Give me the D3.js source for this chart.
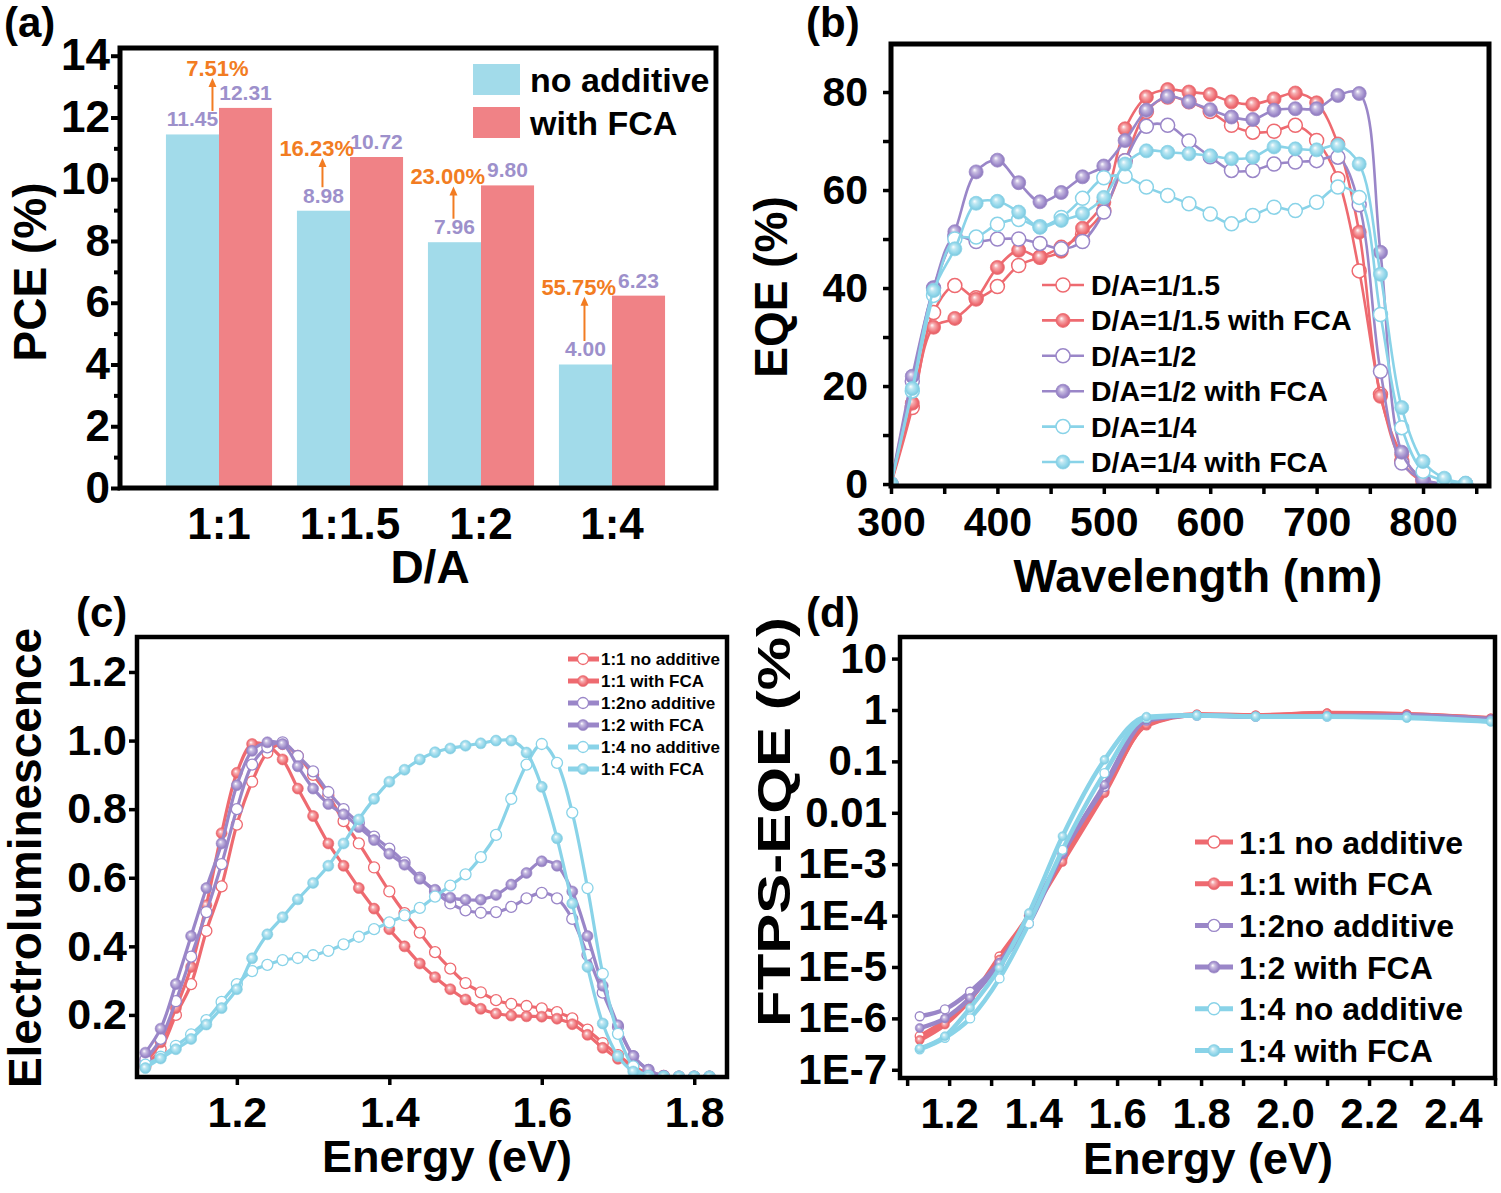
<!DOCTYPE html>
<html><head><meta charset="utf-8">
<script src="https://cdn.jsdelivr.net/npm/d3@7"></script>
<style>
body{margin:0;background:#fff;}
svg text{font-family:"Liberation Sans",Arial,Helvetica,sans-serif;font-weight:bold;}
</style></head><body>
<svg id="chart" width="1501" height="1193" xmlns="http://www.w3.org/2000/svg"></svg>
<script>
// ---------------- DATA ----------------
// (a) PCE bar chart
const pceCategories = ["1:1", "1:1.5", "1:2", "1:4"];
const pceNoAdditive = [11.45, 8.98, 7.96, 4.00];
const pceWithFCA = [12.31, 10.72, 9.80, 6.23];
const pceIncrease = ["7.51%", "16.23%", "23.00%", "55.75%"];
const pceTicks = [0, 2, 4, 6, 8, 10, 12, 14];
const pceMinorTicks = [1, 3, 5, 7, 9, 11, 13];
const pceSeriesNames = ["no additive", "with FCA"];

// (b) EQE spectra
const eqeWavelength = [300,320,340,360,380,400,420,440,460,480,500,520,540,560,580,600,620,640,660,680,700,720,740,760,780,800,820,840];
const eqe_1_1p5     = [0,15.6,35,40.5,38,40.3,44.6,46.3,48.3,51,55.8,66,76,79,78,76,73.2,71.8,72,73.2,70.1,62.3,43.5,18.3,4.6,0.5,0,0];
const eqe_1_1p5_FCA = [0,16.5,32,33.8,37.7,44.2,47.7,46.3,47.5,52.2,57.5,72.5,79,80.5,80,79.5,78,77.5,78.6,79.8,77.8,69.4,51.4,17.9,6,0.9,0,0];
const eqe_1_2       = [0,21,40,50.5,49.5,50,50,49.1,48,49.5,55.5,66,73,73.2,70,66.8,64,64,65.3,65.7,66,66.7,57,23,4.3,1,0,0];
const eqe_1_2_FCA   = [0,22,40,51.5,63.7,66.1,61.5,57.6,59.5,62.7,64.9,70.1,76.3,79.1,78,76.4,74.9,74.4,76.3,76.6,76.6,79.3,79.7,47.3,6.5,1,0,0];
const eqe_1_4       = [0,19,38.5,50,50.4,53,54,52.5,54.4,58.3,62.5,62.8,60.6,58.9,57.2,55.1,53.1,54.8,56.5,55.8,57.5,60.6,58.5,34.6,11.5,2.6,0.7,0];
const eqe_1_4_FCA   = [0,19.5,39.5,48,57.3,57.7,55.5,52.4,53.8,55.2,58.5,65.3,68,67.7,67.4,67,66.4,66.7,68.8,68.4,68.2,69.1,65.3,42.8,15.6,4.6,1.2,0.2];
const eqeLabels = ["D/A=1/1.5", "D/A=1/1.5 with FCA", "D/A=1/2", "D/A=1/2 with FCA", "D/A=1/4", "D/A=1/4 with FCA"];
const eqeXTicks = [300, 400, 500, 600, 700, 800];
const eqeXMinor = [350, 450, 550, 650, 750, 850];
const eqeYTicks = [0, 20, 40, 60, 80];
const eqeYMinor = [10, 30, 50, 70];

// (c) Electroluminescence
const elEnergy = [1.08,1.10,1.12,1.14,1.16,1.18,1.20,1.22,1.24,1.26,1.28,1.30,1.32,1.34,1.36,1.38,1.40,1.42,1.44,1.46,1.48,1.50,1.52,1.54,1.56,1.58,1.60,1.62,1.64,1.66,1.68,1.70,1.72,1.74,1.76,1.78,1.80,1.82];
const el_1_1     = [0.05,0.10,0.20,0.29,0.445,0.575,0.755,0.88,0.965,0.99,0.955,0.90,0.84,0.765,0.70,0.63,0.56,0.497,0.44,0.383,0.335,0.293,0.266,0.243,0.232,0.226,0.219,0.208,0.19,0.157,0.118,0.083,0.05,0.03,0.022,0.02,0.02,0.02];
const el_1_1_FCA = [0.06,0.12,0.22,0.34,0.52,0.73,0.906,0.99,0.985,0.945,0.86,0.78,0.70,0.635,0.57,0.51,0.45,0.40,0.35,0.31,0.275,0.245,0.218,0.204,0.198,0.196,0.195,0.189,0.173,0.142,0.104,0.072,0.045,0.028,0.02,0.02,0.02,0.02];
const el_1_2     = [0.07,0.13,0.24,0.37,0.50,0.64,0.80,0.93,0.98,0.995,0.955,0.91,0.85,0.80,0.76,0.72,0.685,0.645,0.60,0.56,0.525,0.505,0.498,0.50,0.515,0.54,0.556,0.54,0.48,0.375,0.265,0.165,0.08,0.04,0.022,0.02,0.02,0.02];
const el_1_2_FCA = [0.09,0.16,0.29,0.43,0.57,0.70,0.87,0.97,0.995,0.99,0.925,0.86,0.815,0.785,0.748,0.71,0.67,0.638,0.597,0.565,0.542,0.536,0.536,0.55,0.58,0.614,0.648,0.635,0.56,0.43,0.285,0.17,0.08,0.04,0.022,0.02,0.02,0.02];
const el_1_4     = [0.055,0.078,0.11,0.143,0.185,0.238,0.29,0.328,0.346,0.36,0.366,0.374,0.387,0.406,0.428,0.45,0.47,0.49,0.512,0.545,0.577,0.61,0.66,0.725,0.83,0.93,0.99,0.935,0.79,0.57,0.32,0.145,0.05,0.022,0.02,0.02,0.02,0.02];
const el_1_4_FCA = [0.045,0.073,0.10,0.13,0.172,0.22,0.275,0.365,0.435,0.485,0.537,0.585,0.635,0.70,0.77,0.83,0.88,0.915,0.945,0.966,0.977,0.985,0.992,1.0,1.0,0.965,0.865,0.715,0.525,0.34,0.175,0.08,0.035,0.02,0.02,0.02,0.02,0.02];
const elLabels = ["1:1 no additive", "1:1 with FCA", "1:2no additive", "1:2 with FCA", "1:4 no additive", "1:4 with FCA"];
const elXTicks = [1.2, 1.4, 1.6, 1.8];
const elYTicks = [0.2, 0.4, 0.6, 0.8, 1.0, 1.2];

// (d) FTPS-EQE
const ftpsEnergy = [1.13,1.19,1.25,1.32,1.39,1.47,1.57,1.67,1.79,1.93,2.10,2.29,2.49];
const ftps_1_1     = [4.5e-7,9e-7,2.4e-6,1.6e-5,1.0e-4,1.3e-3,2.6e-2,0.50,0.80,0.78,0.85,0.82,0.68];
const ftps_1_1_FCA = [3.8e-7,7.6e-7,2.3e-6,1.4e-5,9.5e-5,1.1e-3,2.4e-2,0.51,0.83,0.79,0.87,0.83,0.69];
const ftps_1_2     = [1.1e-6,1.5e-6,3.3e-6,1.2e-5,7e-5,1.6e-3,3.2e-2,0.62,0.78,0.74,0.75,0.77,0.65];
const ftps_1_2_FCA = [6.5e-7,1.0e-6,2.5e-6,1.2e-5,9.5e-5,1.6e-3,3.5e-2,0.64,0.79,0.74,0.76,0.78,0.66];
const ftps_1_4     = [2.5e-7,4.2e-7,1.0e-6,6e-6,7e-5,1.9e-3,5.9e-2,0.70,0.78,0.74,0.74,0.72,0.60];
const ftps_1_4_FCA = [2.6e-7,4.5e-7,1.6e-6,9.5e-6,1.12e-4,3.5e-3,0.107,0.74,0.79,0.75,0.75,0.70,0.59];
const ftpsLabels = ["1:1 no additive", "1:1 with FCA", "1:2no additive", "1:2 with FCA", "1:4 no additive", "1:4 with FCA"];
const ftpsXTicks = [1.2, 1.4, 1.6, 1.8, 2.0, 2.2, 2.4];
const ftpsXMinor = [1.1, 1.3, 1.5, 1.7, 1.9, 2.1, 2.3, 2.5];
const ftpsYTicks = [10, 1, 0.1, 0.01, 1e-3, 1e-4, 1e-5, 1e-6, 1e-7];
const ftpsYTickLabels = ["10", "1", "0.1", "0.01", "1E-3", "1E-4", "1E-5", "1E-6", "1E-7"];

// ---------------- STYLE ----------------
const RED = "#ee6a70", PURPLE = "#9a86c8", CYAN = "#89d3e8";
const BAR_CYAN = "#a2dbea", BAR_RED = "#f08286";
const VAL_COLOR = "#9d90cb", PCT_COLOR = "#f27c22";
const FONT = '"Liberation Sans", Arial, Helvetica, sans-serif';

const svg = d3.select("#chart");
const defs = svg.append("defs");
function makeGrad(id, c) {
  const g = defs.append("radialGradient").attr("id", id)
    .attr("cx", "50%").attr("cy", "50%").attr("r", "55%").attr("fx", "38%").attr("fy", "35%");
  g.append("stop").attr("offset", "0%").attr("stop-color", "#ffffff");
  g.append("stop").attr("offset", "30%").attr("stop-color", d3.interpolateRgb("#ffffff", c)(0.55));
  g.append("stop").attr("offset", "75%").attr("stop-color", c);
  g.append("stop").attr("offset", "100%").attr("stop-color", d3.color(c).darker(0.3));
}
makeGrad("gRed", RED); makeGrad("gPurple", PURPLE); makeGrad("gCyan", CYAN);
const gradOf = c => c === RED ? "url(#gRed)" : c === PURPLE ? "url(#gPurple)" : "url(#gCyan)";

function styleAxis(g, fs, tw) {
  g.select(".domain").remove();
  g.selectAll(".tick line").attr("stroke", "#000").attr("stroke-width", tw || 3.5);
  g.selectAll(".tick text").attr("fill", "#000")
    .style("font-size", fs + "px").style("font-weight", "bold").style("font-family", FONT);
}
function frame(g, P, sw) {
  g.append("rect").attr("x", P.l).attr("y", P.t).attr("width", P.r - P.l).attr("height", P.b - P.t)
    .attr("fill", "none").attr("stroke", "#000").attr("stroke-width", sw);
}
function text(g, x, y, s, size, opts = {}) {
  const t = g.append("text").attr("x", x).attr("y", y).text(s)
    .style("font-size", size + "px").attr("fill", opts.fill || "#000")
    .attr("text-anchor", opts.anchor || "start");
  if (opts.rotate) t.attr("transform", `rotate(-90,${x},${y})`);
  if (opts.length) t.attr("textLength", opts.length).attr("lengthAdjust", "spacingAndGlyphs");
  return t;
}
function clip(id, P) {
  defs.append("clipPath").attr("id", id).append("rect")
    .attr("x", P.l).attr("y", P.t).attr("width", P.r - P.l).attr("height", P.b - P.t);
}

// ================= PANEL (a) =================
const A = {l: 120, r: 716, t: 48, b: 488};
const gA = svg.append("g");
const ax = d3.scaleBand().domain(pceCategories).range([153.5, 677.5]).paddingInner(0.19).paddingOuter(0.095);
const ay = d3.scaleLinear().domain([0, 14.25]).range([A.b, A.t]);
const sub = d3.scaleBand().domain(pceSeriesNames).range([0, ax.bandwidth()]);
const barData = [];
pceCategories.forEach((c, i) => {
  barData.push({c, s: pceSeriesNames[0], v: pceNoAdditive[i]});
  barData.push({c, s: pceSeriesNames[1], v: pceWithFCA[i]});
});
gA.selectAll("rect.bar").data(barData).join("rect").attr("class", "bar")
  .attr("x", d => ax(d.c) + sub(d.s)).attr("y", d => ay(d.v))
  .attr("width", sub.bandwidth()).attr("height", d => ay(0) - ay(d.v))
  .attr("fill", d => d.s === pceSeriesNames[0] ? BAR_CYAN : BAR_RED);
gA.selectAll("text.val").data(barData).join("text").attr("class", "val")
  .attr("x", d => ax(d.c) + sub(d.s) + sub.bandwidth() / 2)
  .attr("y", d => ay(d.v) - 8)
  .attr("text-anchor", "middle").attr("fill", VAL_COLOR)
  .style("font-size", "21px").style("font-weight", "bold")
  .text(d => d.v.toFixed(2));
pceCategories.forEach((c, i) => {
  const cyanC = ax(c) + sub.bandwidth() / 2;
  const cyanLabelMid = ay(pceNoAdditive[i]) - 15.5;
  const redLabelMid = ay(pceWithFCA[i]) - 16;
  let ax0, pctMid, tAnchor, tx;
  if (i === 0) {
    ax0 = cyanC + 20; pctMid = redLabelMid - 24; tAnchor = "middle"; tx = ax0 + 5;
  } else {
    ax0 = cyanC - 1; pctMid = redLabelMid + 7; tAnchor = "end"; tx = ax(c) + sub.bandwidth() + 4;
  }
  text(gA, tx, pctMid + 8, pceIncrease[i], 22, {fill: PCT_COLOR, anchor: tAnchor});
  const yBot = cyanLabelMid - 8, yTop = pctMid + 10;
  gA.append("line").attr("x1", ax0).attr("x2", ax0).attr("y1", yBot).attr("y2", yTop + 8)
    .attr("stroke", PCT_COLOR).attr("stroke-width", 2);
  gA.append("path").attr("d", `M${ax0 - 4},${yTop + 9}L${ax0},${yTop}L${ax0 + 4},${yTop + 9}Z`).attr("fill", PCT_COLOR);
});
const aYAxis = gA.append("g").attr("transform", `translate(${A.l},0)`)
  .call(d3.axisLeft(ay).tickValues(pceTicks).tickSize(9).tickPadding(1).tickFormat(d3.format("d")));
styleAxis(aYAxis, 44, 4);
const aYMinor = gA.append("g").attr("transform", `translate(${A.l},0)`)
  .call(d3.axisLeft(ay).tickValues(pceMinorTicks).tickSize(6).tickFormat(""));
styleAxis(aYMinor, 44, 4);
const aXAxis = gA.append("g").attr("transform", `translate(0,${A.b})`)
  .call(d3.axisBottom(ax).tickSize(0).tickPadding(20));
styleAxis(aXAxis, 44);
frame(gA, A, 5);
[BAR_CYAN, BAR_RED].forEach((col, i) => {
  gA.append("rect").attr("x", 473).attr("y", 64 + i * 43).attr("width", 47).attr("height", 31).attr("fill", col);
  text(gA, 530, 92 + i * 43, pceSeriesNames[i], 34);
});
text(gA, 46, 272, "PCE (%)", 46, {anchor: "middle", rotate: true});
text(gA, 430, 583, "D/A", 46, {anchor: "middle"});
text(gA, 4, 37, "(a)", 42);

// ================= PANEL (b) =================
const B = {l: 891, r: 1489, t: 44, b: 486};
const gB = svg.append("g");
clip("clipB", B);
const bx = d3.scaleLinear().domain([300, 862]).range([B.l, B.r]);
const by = d3.scaleLinear().domain([-0.4, 89.8]).range([B.b, B.t]);
const eqeSeries = [
  {v: eqe_1_1p5, c: RED, open: true}, {v: eqe_1_1p5_FCA, c: RED, open: false},
  {v: eqe_1_2, c: PURPLE, open: true}, {v: eqe_1_2_FCA, c: PURPLE, open: false},
  {v: eqe_1_4, c: CYAN, open: true}, {v: eqe_1_4_FCA, c: CYAN, open: false}
];
const bLine = d3.line().x(d => bx(d[0])).y(d => by(d[1])).curve(d3.curveCatmullRom.alpha(0.5));
const bPlot = gB.append("g").attr("clip-path", "url(#clipB)");
eqeSeries.forEach(s => {
  const pts = eqeWavelength.map((w, i) => [w, s.v[i]]);
  bPlot.append("path").attr("d", bLine(pts)).attr("fill", "none").attr("stroke", s.c).attr("stroke-width", 2.6);
  bPlot.selectAll(null).data(pts).join("circle")
    .attr("cx", d => bx(d[0])).attr("cy", d => by(d[1])).attr("r", 7)
    .attr("fill", s.open ? "#fff" : gradOf(s.c)).attr("stroke", s.c).attr("stroke-width", s.open ? 1.5 : 0.8);
});
const bY = gB.append("g").attr("transform", `translate(${B.l},0)`)
  .call(d3.axisLeft(by).tickValues(eqeYTicks).tickSize(8).tickPadding(15).tickFormat(d3.format("d")));
styleAxis(bY, 41);
const bYm = gB.append("g").attr("transform", `translate(${B.l},0)`)
  .call(d3.axisLeft(by).tickValues(eqeYMinor).tickSize(8).tickFormat(""));
styleAxis(bYm, 41);
const bX = gB.append("g").attr("transform", `translate(0,${B.b})`)
  .call(d3.axisBottom(bx).tickValues(eqeXTicks).tickSize(8).tickPadding(13).tickFormat(d3.format("d")));
styleAxis(bX, 41);
const bXm = gB.append("g").attr("transform", `translate(0,${B.b})`)
  .call(d3.axisBottom(bx).tickValues(eqeXMinor).tickSize(8).tickFormat(""));
styleAxis(bXm, 41);
frame(gB, B, 5);
eqeSeries.forEach((s, i) => {
  const y = 285 + i * 35.4;
  gB.append("line").attr("x1", 1042).attr("x2", 1084).attr("y1", y).attr("y2", y).attr("stroke", s.c).attr("stroke-width", 2.6);
  gB.append("circle").attr("cx", 1063).attr("cy", y).attr("r", 7)
    .attr("fill", s.open ? "#fff" : gradOf(s.c)).attr("stroke", s.c).attr("stroke-width", s.open ? 1.5 : 0.8);
  text(gB, 1091, y + 10, eqeLabels[i], 28.5);
});
text(gB, 787, 287, "EQE (%)", 46, {anchor: "middle", rotate: true});
text(gB, 1198, 592, "Wavelength (nm)", 46, {anchor: "middle"});
text(gB, 806, 37, "(b)", 42);

// ================= PANEL (c) =================
const C = {l: 137, r: 727, t: 637, b: 1077};
const gC = svg.append("g");
clip("clipC", C);
const cx = d3.scaleLinear().domain([1.069, 1.843]).range([C.l, C.r]);
const cy = d3.scaleLinear().domain([0.019, 1.302]).range([C.b, C.t]);
const elSeries = [
  {v: el_1_1, c: RED, open: true}, {v: el_1_1_FCA, c: RED, open: false},
  {v: el_1_2, c: PURPLE, open: true}, {v: el_1_2_FCA, c: PURPLE, open: false},
  {v: el_1_4, c: CYAN, open: true}, {v: el_1_4_FCA, c: CYAN, open: false}
];
const cLine = d3.line().x(d => cx(d[0])).y(d => cy(d[1])).curve(d3.curveCatmullRom.alpha(0.5));
const cPlot = gC.append("g").attr("clip-path", "url(#clipC)");
elSeries.forEach(s => {
  const pts = elEnergy.map((e, i) => [e, s.v[i]]);
  cPlot.append("path").attr("d", cLine(pts)).attr("fill", "none").attr("stroke", s.c).attr("stroke-width", 3.2);
  cPlot.selectAll(null).data(pts).join("circle")
    .attr("cx", d => cx(d[0])).attr("cy", d => cy(d[1])).attr("r", 5.5)
    .attr("fill", s.open ? "#fff" : gradOf(s.c)).attr("stroke", s.c).attr("stroke-width", s.open ? 1.3 : 0.6);
});
const cY = gC.append("g").attr("transform", `translate(${C.l},0)`)
  .call(d3.axisLeft(cy).tickValues(elYTicks).tickSize(8).tickPadding(2).tickFormat(d3.format(".1f")));
styleAxis(cY, 43);
const cX = gC.append("g").attr("transform", `translate(0,${C.b})`)
  .call(d3.axisBottom(cx).tickValues(elXTicks).tickSize(8).tickPadding(11).tickFormat(d3.format(".1f")));
styleAxis(cX, 43);
frame(gC, C, 4.5);
elSeries.forEach((s, i) => {
  const y = 659 + i * 22;
  gC.append("line").attr("x1", 568).attr("x2", 599).attr("y1", y).attr("y2", y).attr("stroke", s.c).attr("stroke-width", 5);
  gC.append("circle").attr("cx", 583).attr("cy", y).attr("r", 5.5)
    .attr("fill", s.open ? "#fff" : gradOf(s.c)).attr("stroke", s.c).attr("stroke-width", s.open ? 1.3 : 0.6);
  text(gC, 601, y + 6, elLabels[i], 17);
});
text(gC, 41, 858, "Electroluminescence", 46, {anchor: "middle", rotate: true});
text(gC, 447, 1172, "Energy (eV)", 45, {anchor: "middle"});
text(gC, 76, 627, "(c)", 42);

// ================= PANEL (d) =================
const D = {l: 900, r: 1495, t: 637, b: 1078};
const gD = svg.append("g");
clip("clipD", D);
const dx = d3.scaleLinear().domain([1.083, 2.5]).range([D.l, D.r]);
const dy = d3.scaleLog().domain([Math.pow(10, -7.16), Math.pow(10, 1.42)]).range([D.b, D.t]);
const ftpsSeries = [
  {v: ftps_1_1, c: RED, open: true}, {v: ftps_1_1_FCA, c: RED, open: false},
  {v: ftps_1_2, c: PURPLE, open: true}, {v: ftps_1_2_FCA, c: PURPLE, open: false},
  {v: ftps_1_4, c: CYAN, open: true}, {v: ftps_1_4_FCA, c: CYAN, open: false}
];
const dLine = d3.line().x(d => dx(d[0])).y(d => dy(d[1])).curve(d3.curveMonotoneX);
const dPlot = gD.append("g").attr("clip-path", "url(#clipD)");
ftpsSeries.forEach(s => {
  const pts = ftpsEnergy.map((e, i) => [e, s.v[i]]);
  dPlot.append("path").attr("d", dLine(pts)).attr("fill", "none").attr("stroke", s.c).attr("stroke-width", 4.5);
  dPlot.selectAll(null).data(pts).join("circle")
    .attr("cx", d => dx(d[0])).attr("cy", d => dy(d[1])).attr("r", 4.5)
    .attr("fill", s.open ? "#fff" : gradOf(s.c)).attr("stroke", s.c).attr("stroke-width", s.open ? 1.3 : 0.6);
});
const dY = gD.append("g").attr("transform", `translate(${D.l},0)`)
  .call(d3.axisLeft(dy).tickValues(ftpsYTicks).tickSize(8).tickPadding(5)
    .tickFormat((d, i) => ftpsYTickLabels[i]));
styleAxis(dY, 42);
const dX = gD.append("g").attr("transform", `translate(0,${D.b})`)
  .call(d3.axisBottom(dx).tickValues(ftpsXTicks).tickSize(8).tickPadding(12).tickFormat(d3.format(".1f")));
styleAxis(dX, 42);
const dXm = gD.append("g").attr("transform", `translate(0,${D.b})`)
  .call(d3.axisBottom(dx).tickValues(ftpsXMinor).tickSize(8).tickFormat(""));
styleAxis(dXm, 42);
frame(gD, D, 4.5);
ftpsSeries.forEach((s, i) => {
  const y = 842 + i * 41.7;
  gD.append("line").attr("x1", 1195).attr("x2", 1233).attr("y1", y).attr("y2", y).attr("stroke", s.c).attr("stroke-width", 5);
  gD.append("circle").attr("cx", 1214).attr("cy", y).attr("r", 6)
    .attr("fill", s.open ? "#fff" : gradOf(s.c)).attr("stroke", s.c).attr("stroke-width", s.open ? 1.4 : 0.6);
  text(gD, 1239, y + 11.5, ftpsLabels[i], 32);
});
text(gD, 790, 822, "FTPS-EQE (%)", 46, {anchor: "middle", rotate: true, length: 410});
text(gD, 1208, 1174, "Energy (eV)", 45, {anchor: "middle"});
text(gD, 806, 627, "(d)", 42);
</script>
</body></html>
